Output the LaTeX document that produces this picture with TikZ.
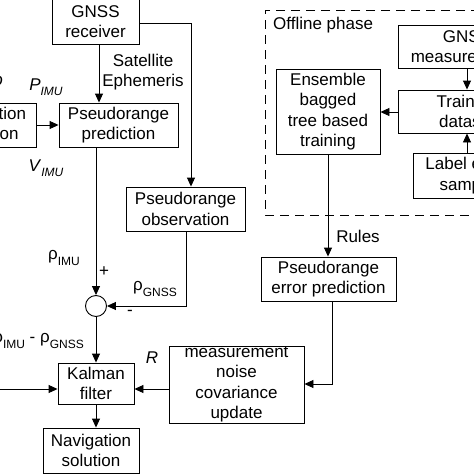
\documentclass[tikz,border=0pt]{standalone}
\usepackage{fontspec}
\setmainfont{Liberation Sans}
\usetikzlibrary{arrows.meta}
\newcommand\sbs[1]{\raisebox{-0.3em}{\fontsize{12}{12}\selectfont #1}}
\begin{document}
\begin{tikzpicture}[x=1pt,y=-1pt,
  every node/.style={font=\fontsize{17}{20.5}\selectfont, inner sep=0pt},
  blk/.style={draw, line width=0.9pt, align=center},
  arr/.style={line width=0.9pt, -{Triangle[length=9pt,width=8pt]}},
  ln/.style={line width=0.9pt},
  lbl/.style={align=center}]
\useasboundingbox (0,0) rectangle (474,474);
\clip (0,0) rectangle (474,474);
\fill[white] (0,0) rectangle (474,474);
% blocks
\node[blk, minimum width=87pt, minimum height=45pt] (gnss) at (95.5,21.5) {GNSS\\receiver};
\node[blk, minimum width=100pt, minimum height=44pt] (mech) at (-14,125) {Navigation\\equation};
\node[blk, minimum width=119pt, minimum height=44pt] (pp) at (118.5,125) {Pseudorange\\prediction};
\node[blk, minimum width=119pt, minimum height=44pt] (po) at (185.5,209) {Pseudorange\\observation};
\node[draw, line width=0.9pt, circle, minimum size=21pt] (sum) at (96,306) {};
\node[blk, minimum width=76pt, minimum height=41pt] (kf) at (96,383.5) {Kalman\\filter};
\node[blk, minimum width=96pt, minimum height=45pt] (nav) at (91,450.5) {Navigation\\solution};
\node[blk, minimum width=135pt, minimum height=77pt] (mn) at (236.5,384.5) {measurement\\noise\\covariance\\update};
\node[blk, minimum width=135pt, minimum height=44pt] (pep) at (328.5,279) {Pseudorange\\error prediction};
\node[blk, minimum width=104pt, minimum height=85pt] (ens) at (328,111.5) {Ensemble\\bagged\\tree based\\training};
\node[blk, minimum width=138pt, minimum height=43pt] (gm) at (467,46.5) {GNSS\\measurements};
\node[blk, minimum width=138pt, minimum height=43pt] (td) at (467,111.5) {Training\\dataset};
\node[blk, minimum width=108pt, minimum height=45pt] (lab) at (467,175.5) {Label each\\sample};
% dashed region
\draw[ln, dash pattern=on 9pt off 6pt] (495,10) -- (265,10) -- (265,215) -- (495,215);
\node[anchor=west] (off) at (273,25) {Offline phase};
% helper coordinates
\coordinate (x99) at (99,0);
\coordinate (x96) at (96,0);
\coordinate (x191) at (191,0);
\coordinate (x186) at (186,0);
\coordinate (x332) at (332,0);
\coordinate (x328) at (328,0);
\coordinate (y23) at (0,23);
\coordinate (y306) at (0,306);
\coordinate (y389) at (0,389);
\coordinate (y384) at (0,384);
\coordinate (y112) at (0,112);
\coordinate (lin) at (-5,389);
% connectors
\draw[arr] (gnss.south -| x99) -- (pp.north -| x99);
\draw[arr] (gnss.east |- y23) -| (po.north -| x191);
\draw[arr] (mech.east) -- (pp.west);
\draw[arr] (pp.south -| x96) -- (sum.north);
\draw[arr] (po.south -| x186) |- (sum.east);
\draw[arr] (sum.south) -- (kf.north);
\draw[arr] (lin) -- (kf.west |- y389);
\draw[arr] (mn.west |- y389) -- (kf.east |- y389);
\draw[arr] (pep.south -| x332) |- (mn.east |- y384);
\draw[arr] (ens.south -| x328) -- (pep.north -| x328);
\draw[arr] (gm.south) -- (td.north);
\draw[arr] (td.west |- y112) -- (ens.east |- y112);
\draw[arr] (lab.north) -- (td.south);
\draw[arr] (kf.south -| x96) -- (nav.north -| x96);
% labels
\node[lbl] (sat) at (143,72) {Satellite\\Ephemeris};
\node (pimu) at (46,87) {\textit{P}\sbs{\textit{IMU}}};
\node (vimu) at (46,168) {\textit{V}\sbs{\textit{IMU}}};
\node (rimu) at (64,258) {ρ\sbs{IMU}};
\node (plus) at (104,272) {+};
\node (rgnss) at (155,289) {ρ\sbs{GNSS}};
\node (minus) at (130,313) {-};
\node[anchor=east] (diff) at (84,341) {ρ\sbs{IMU} - ρ\sbs{GNSS}};
\node (R) at (152,358) {\textit{R}};
\node (rules) at (358,236) {Rules};
\node[anchor=east] (cut) at (3,81) {\textit{ω}};
\end{tikzpicture}
\end{document}
